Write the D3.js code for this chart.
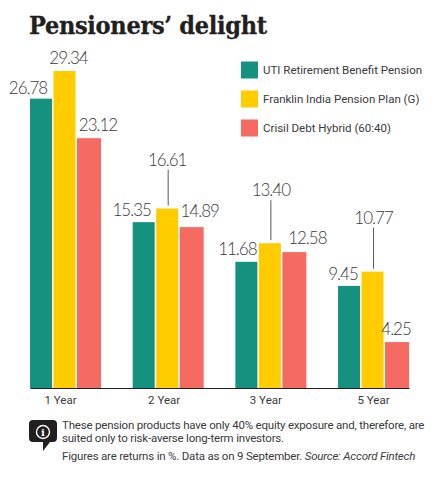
<!DOCTYPE html>
<html>
<head>
<meta charset="utf-8">
<script src="https://cdn.jsdelivr.net/npm/d3@7"></script>
<style>
html, body { margin: 0; padding: 0; background: #fff; }
svg { display: block; }
</style>
</head>
<body>
<script>
// chart data
const periods = ["1 Year", "2 Year", "3 Year", "5 Year"];
const seriesNames = ["UTI Retirement Benefit Pension", "Franklin India Pension Plan (G)", "Crisil Debt Hybrid (60:40)"];
const utiValues = [26.78, 15.35, 11.68, 9.45];
const franklinValues = [29.34, 16.61, 13.40, 10.77];
const crisilValues = [23.12, 14.89, 12.58, 4.25];
const seriesValues = [utiValues, franklinValues, crisilValues];
const colors = ["#14917f", "#ffcc00", "#f56b62"];

// hand placed label offsets from top centre of each bar [series][period]
const labelDx = [[-13, -12, -9, -6], [4, 0, 1, 1], [10, 9, 14, 0]];
const labelDy = [[-5, -6, -7, -6], [-7, -43, -47, -48], [-7, -10, -8, -7]];
const tickDx = [-5, -4, -5, 0];  // period labels are not centred under the groups

const svg = d3.select("body").append("svg")
    .attr("width", 445)
    .attr("height", 482);

const baseY = 388;
const x = d3.scaleBand().domain(periods).range([30, 409]).paddingInner(0.309);
const xInner = d3.scaleBand().domain(d3.range(3)).range([0, 69]).paddingInner(0.064);
const y = d3.scaleLinear().domain([0, 29.34]).range([baseY, 71]);

svg.append("text")  // title
    .attr("x", 29)
    .attr("y", 34)
    .attr("font-family", "DejaVu Serif Condensed, DejaVu Serif")
    .attr("font-stretch", "condensed")
    .attr("font-weight", "bold")
    .attr("font-size", 25)
    .attr("letter-spacing", -0.3)
    .attr("stroke", "#231f20")
    .attr("stroke-width", 0.3)
    .attr("fill", "#231f20")
    .text("Pensioners’ delight");

seriesValues.forEach(function (values, s) {
    const g = svg.append("g");
    const barW = xInner.bandwidth() + (s == 2 ? 2 : 0);  // red bars are a bit wider

    g.selectAll("rect")
        .data(values)
        .enter()
        .append("rect")
        .attr("x", (d, i) => x(periods[i]) + xInner(s))
        .attr("y", d => y(d))
        .attr("width", barW)
        .attr("height", d => baseY - y(d))
        .attr("fill", colors[s]);

    g.selectAll("text")
        .data(values)
        .enter()
        .append("text")
        .attr("x", (d, i) => x(periods[i]) + xInner(s) + xInner.bandwidth() / 2 + labelDx[s][i])
        .attr("y", (d, i) => y(d) + labelDy[s][i])
        .attr("text-anchor", "middle")
        .attr("font-family", "Lato")
        .attr("font-weight", 300)
        .attr("font-size", 17)
        .attr("letter-spacing", -1)
        .attr("fill", "#3a3a3c")
        .text(d => d.toFixed(2));

    // leader lines for labels lifted above the bar
    g.selectAll("line")
        .data(values.map((d, i) => [d, i]).filter(p => labelDy[s][p[1]] < -20))
        .enter()
        .append("line")
        .attr("x1", p => x(periods[p[1]]) + xInner(s) + xInner.bandwidth() / 2 + 1)
        .attr("x2", p => x(periods[p[1]]) + xInner(s) + xInner.bandwidth() / 2 + 1)
        .attr("y1", p => y(p[0]) + labelDy[s][p[1]] + 4)
        .attr("y2", p => y(p[0]) - 3)
        .attr("stroke", "#58585a")
        .attr("stroke-width", 1);
});

// baseline + category labels
const axis = svg.append("g")
    .attr("transform", "translate(0," + baseY + ")")
    .call(d3.axisBottom(x).tickSize(0).tickPadding(8));
axis.select(".domain").attr("stroke", "#231f20").attr("stroke-width", 1);
axis.selectAll("text")
    .attr("dx", (d, i) => tickDx[i])
    .attr("font-family", "Roboto")
    .attr("font-size", 11.5)
    .attr("fill", "#3a3a3c");

// legend
const legendY = d3.scalePoint().domain(seriesNames).range([70, 128]);
seriesNames.forEach(function (name, i) {
    svg.append("rect")
        .attr("x", 241)
        .attr("y", legendY(name) - 8.5)
        .attr("width", 17)
        .attr("height", 17)
        .attr("fill", colors[i]);
    svg.append("text")
        .attr("x", 263)
        .attr("y", legendY(name) + 4)
        .attr("font-family", "Roboto")
        .attr("font-size", 11.5)
        .attr("fill", "#3a3a3c")
        .text(name);
});

// info icon
svg.append("path")
    .attr("d", "M33 420H53Q57 420 57 424V438Q57 442 53 442H50L43 451V442H33Q29 442 29 438V424Q29 420 33 420Z")
    .attr("fill", "#231f20");
svg.append("circle")
    .attr("cx", 43).attr("cy", 432).attr("r", 6.5)
    .attr("fill", "none").attr("stroke", "#fff").attr("stroke-width", 1.4);
svg.append("text")
    .attr("x", 43).attr("y", 436)
    .attr("text-anchor", "middle")
    .attr("font-family", "DejaVu Serif")
    .attr("font-weight", "bold")
    .attr("font-size", 10)
    .attr("fill", "#fff")
    .text("i");

// footnote
function note(yPos) {
    return svg.append("text")
        .attr("x", 62)
        .attr("y", yPos)
        .attr("font-family", "Roboto")
        .attr("font-size", 11.5)
        .attr("letter-spacing", -0.2)
        .attr("fill", "#3a3a3c");
}
note(429).text("These pension products have only 40% equity exposure and, therefore, are");
note(442).text("suited only to risk-averse long-term investors.");
const last = note(460).text("Figures are returns in %. Data as on 9 September. ");
last.append("tspan").attr("font-style", "italic").text("Source: Accord Fintech");
</script>
</body>
</html>
